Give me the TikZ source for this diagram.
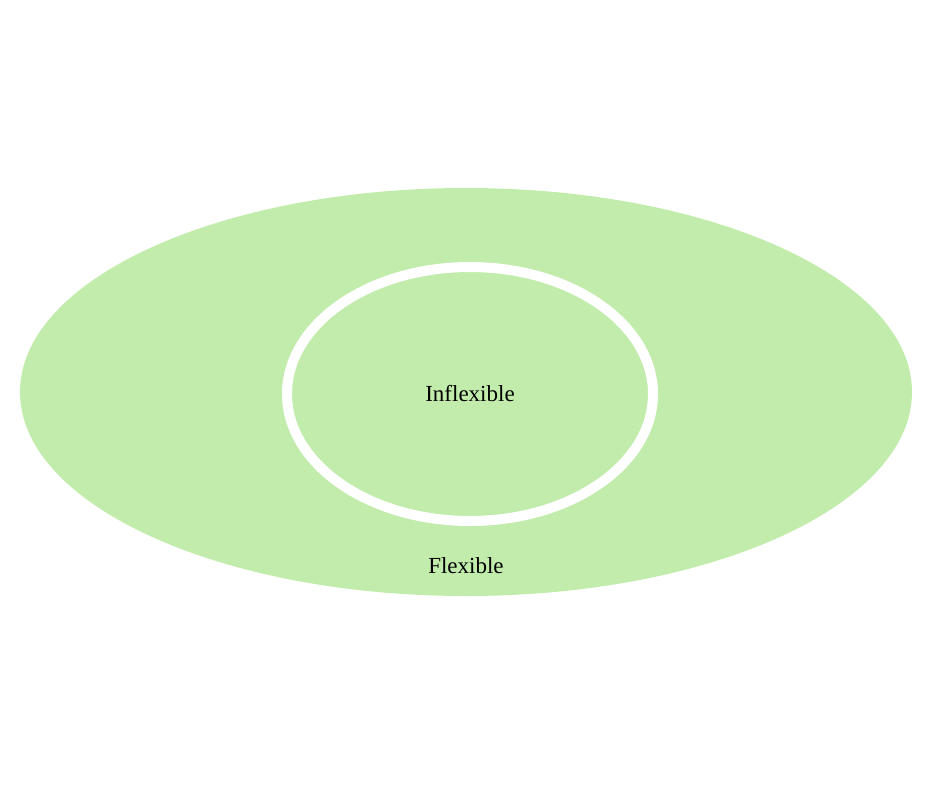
\documentclass[tikz,border=0pt]{standalone}
\usepackage{fontspec}
\setmainfont{Liberation Serif}
\definecolor{softgreen}{RGB}{193,236,171}
\begin{document}
\begin{tikzpicture}[x=1pt,y=-1pt,
  region/.style={fill=softgreen},
  inner region/.style={fill=softgreen,draw=white,line width=10pt},
  label/.style={font=\fontsize{23}{27}\selectfont,text=black}]
\useasboundingbox (0,0) rectangle (940,788);
\fill[region] (466,392) ellipse [x radius=446, y radius=204];
\node[label] (flex) at (466,566) {Flexible};
\draw[inner region] (470,394) ellipse [x radius=183, y radius=127];
\node[label] (inflex) at (470,394) {Inflexible};
\end{tikzpicture}
\end{document}
